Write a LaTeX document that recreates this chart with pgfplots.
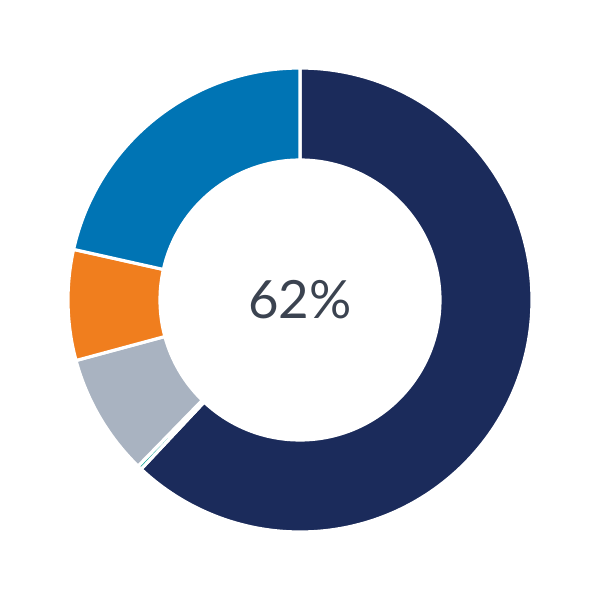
\documentclass[border=0pt]{standalone}
\usepackage{pgfplots}
\usepackage{pgfplotstable}
\pgfplotsset{compat=1.18}
\usepackage{fontspec}
\setmainfont{Lato}
\definecolor{cnavy}{HTML}{1B2B5B}
\definecolor{cteal}{HTML}{1FA79A}
\definecolor{cgray}{HTML}{A9B3C1}
\definecolor{corange}{HTML}{F07E1E}
\definecolor{cblue}{HTML}{0074B4}
\definecolor{ctext}{HTML}{3B4350}
\pgfplotstableread{
value color
62.0 cnavy
0.3 cteal
8.5 cgray
7.7 corange
21.5 cblue
}\datatable
\begin{document}
\begin{tikzpicture}
\begin{axis}[
  hide axis, disabledatascaling,
  x=1cm, y=1cm,
  xmin=-3, xmax=3, ymin=-3, ymax=3,
  clip=false,
]
\path (axis cs:-3,-3) rectangle (axis cs:3,3);
\pgfplotstablegetrowsof{\datatable}
\pgfmathtruncatemacro\N{\pgfplotsretval-1}
\def\cum{0}
\pgfplotsforeachungrouped \i in {0,...,\N}{
  \pgfplotstablegetelem{\i}{value}\of\datatable
  \let\v\pgfplotsretval
  \pgfplotstablegetelem{\i}{color}\of\datatable
  \let\c\pgfplotsretval
  \pgfmathsetmacro\a{90-3.6*\cum}
  \pgfmathsetmacro\b{90-3.6*(\cum+\v)}
  \pgfmathsetmacro\xo{2.32*cos(\a)}
  \pgfmathsetmacro\yo{2.32*sin(\a)}
  \pgfmathsetmacro\xi{1.40*cos(\b)}
  \pgfmathsetmacro\yi{1.40*sin(\b)}
  \edef\temp{\noexpand\fill[\c, draw=white, line width=0.9pt, line join=miter]
    (axis cs:\xo,\yo) arc[start angle=\a, end angle=\b, radius=2.32cm]
    -- (axis cs:\xi,\yi) arc[start angle=\b, end angle=\a, radius=1.40cm] -- cycle;}
  \temp
  \pgfmathsetmacro\cum{\cum+\v}
  \global\let\cum\cum
}
\node[text=ctext, font=\fontsize{15}{18}\selectfont] at (axis cs:0,0) {62\%};
\end{axis}
\end{tikzpicture}
\end{document}
